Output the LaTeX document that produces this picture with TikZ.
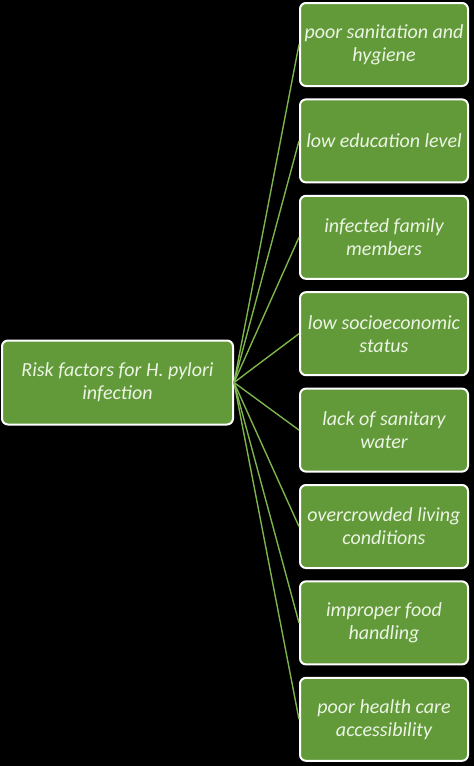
\documentclass[tikz,border=0pt]{standalone}
\usepackage{fontspec}
\setmainfont{Carlito}
\definecolor{boxgreen}{RGB}{98,154,58}
\definecolor{linegreen}{RGB}{125,180,75}
\definecolor{txt}{RGB}{236,244,228}
\begin{document}
\begin{tikzpicture}[x=1pt,y=-1pt,
  fbox/.style={draw=white,line width=2pt,fill=boxgreen,rounded corners=6pt,
    text=txt,font=\fontsize{20}{23}\selectfont\itshape,align=center,inner sep=0pt},
  conn/.style={draw=linegreen,line width=1.4pt}]
\fill[black] (0,0) rectangle (474,766);
\useasboundingbox (0,0) rectangle (474,766);
\node[fbox,minimum width=231pt,minimum height=84pt] (root) at (117.5,382.5) {Risk factors for H. pylori\\infection};
\foreach \i/\t in {1/{poor sanitation and\\hygiene},2/{low education level},3/{infected family\\members},4/{low socioeconomic\\status},5/{lack of sanitary\\water},6/{overcrowded living\\conditions},7/{improper food\\handling},8/{poor health care\\accessibility}}{
  \node[fbox,minimum width=168pt,minimum height=83pt] (b\i) at (384,{44.5+96.4*(\i-1)}) {\t};
  \draw[conn] (root.east) -- (b\i.west);
}
\end{tikzpicture}
\end{document}
